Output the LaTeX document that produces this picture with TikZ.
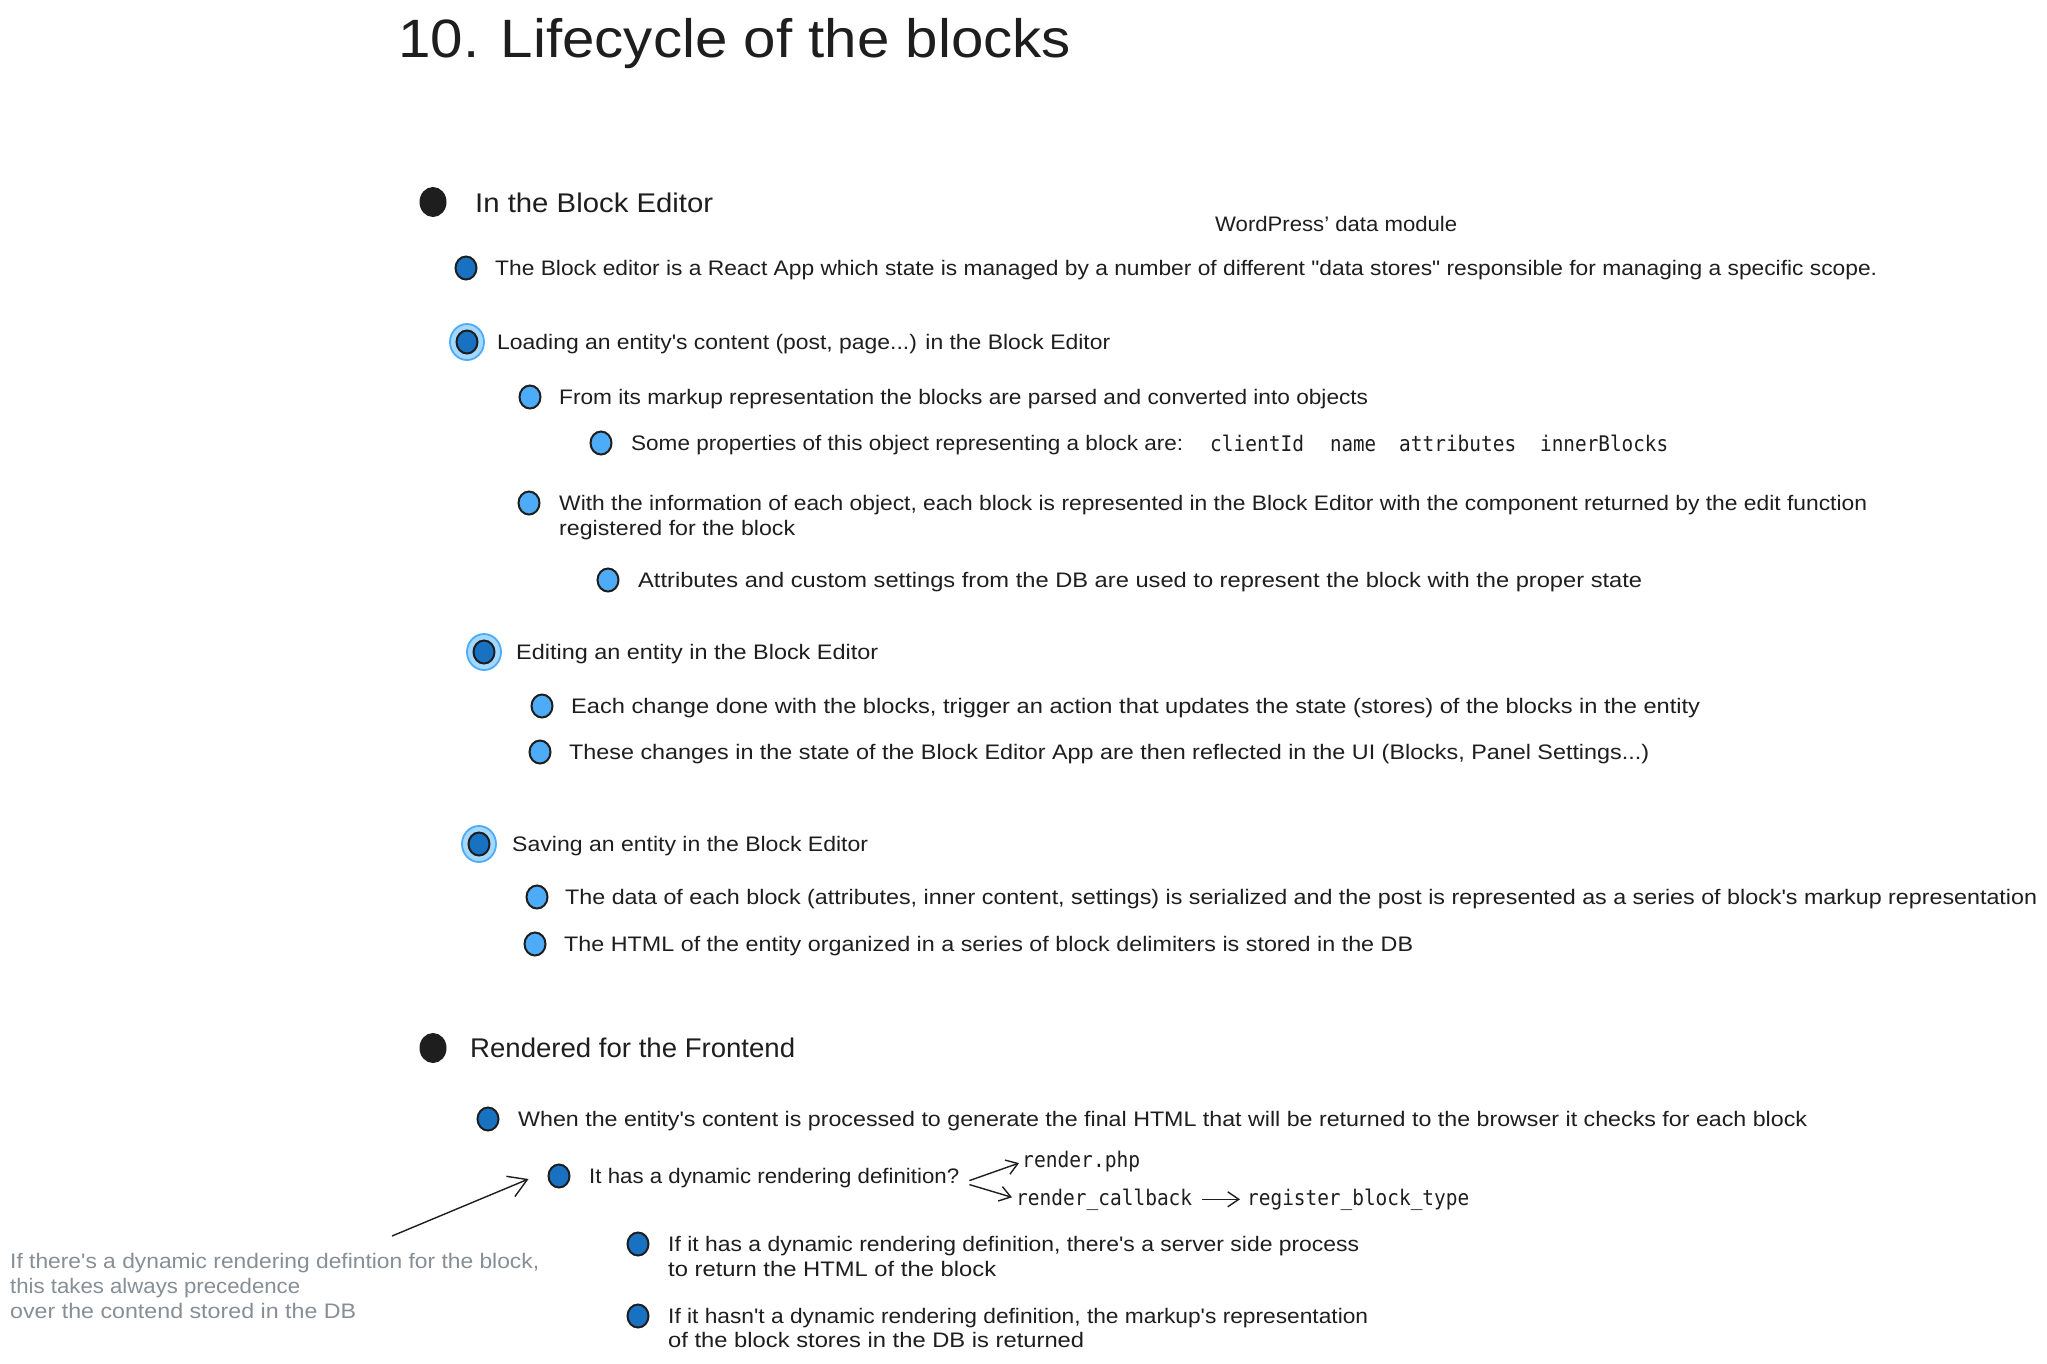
\documentclass[tikz,border=0pt]{standalone}
\usepackage{fontspec}
\usepackage{graphicx}
\setmainfont{Liberation Sans}[Ligatures=TeXOff]
\setmonofont{DejaVu Sans Mono}
\usetikzlibrary{arrows.meta,shapes.geometric}
\definecolor{ink}{HTML}{1E1E1E}
\definecolor{dblue}{HTML}{1971C2}
\definecolor{lblue}{HTML}{4DABF7}
\definecolor{ringfill}{HTML}{A5D8FF}
\definecolor{notegrey}{HTML}{868E96}
\newsavebox\fitbox
\newcommand\fitw[2]{\sbox\fitbox{#2}\pgfmathsetmacro\fitrat{#1/\the\wd\fitbox}\scalebox{\fitrat}[1]{\usebox\fitbox}}
\tikzset{
  txt/.style={anchor=base west, inner sep=0pt, text=ink, font=\fontsize{21}{24}\selectfont},
  hdr/.style={txt, font=\fontsize{27}{30}\selectfont},
  ttl/.style={txt, font=\fontsize{54}{60}\selectfont},
  code/.style={txt, font=\ttfamily\fontsize{21.5}{24}\selectfont},
  notetxt/.style={txt, text=notegrey},
  dot/.style={ellipse, draw=ink, line width=2pt, minimum width=21pt, minimum height=23pt, inner sep=0pt},
  darkdot/.style={dot, fill=dblue},
  lightdot/.style={dot, fill=lblue},
  bigdot/.style={ellipse, fill=ink, draw=ink, line width=1pt, minimum width=26pt, minimum height=29pt, inner sep=0pt},
  ringdot/.style={ellipse, fill=ringfill, draw=lblue, line width=1.8pt, minimum width=34pt, minimum height=36pt, inner sep=0pt},
  arr/.style={draw=ink, line width=1.4pt, -{Straight Barb[length=11pt,width=15pt]}},
  notearr/.style={draw=ink, line width=1.4pt, -{Straight Barb[length=18pt,width=22pt]}}
}
\begin{document}
\begin{tikzpicture}[x=1pt,y=-1pt]
\fill[white] (0,0) rectangle (2047,1363);
\useasboundingbox (0,0) rectangle (2047,1363);

% title
\node[ttl] (title) at (398,57) {\fitw{673}{10. Lifecycle of the blocks}};

% In the Block Editor
\node[bigdot] (b1) at (433,202) {};
\node[hdr] (h1) at (475,212) {\fitw{238}{In the Block Editor}};
\node[txt] (wp) at (1215,231) {\fitw{242}{WordPress’ data module}};

\node[darkdot] (b2) at (466,268) {};
\node[txt] (t2) at (495,275) {\fitw{1382}{The Block editor is a React App which state is managed by a number of different "data stores" responsible for managing a specific scope.}};

\node[ringdot] (b3r) at (467,342) {};
\node[darkdot] (b3) at (467,342) {};
\node[txt] (t3) at (497,349) {\fitw{613}{Loading an entity's content (post, page...) in the Block Editor}};

\node[lightdot] (b4) at (530,397) {};
\node[txt] (t4) at (559,404) {\fitw{809}{From its markup representation the blocks are parsed and converted into objects}};

\node[lightdot] (b5) at (601,443) {};
\node[txt] (t5) at (631,450) {\fitw{552}{Some properties of this object representing a block are:}};
\node[code] (c1) at (1210,451) {\fitw{94}{clientId}};
\node[code] (c2) at (1330,451) {\fitw{46}{name}};
\node[code] (c3) at (1399,451) {\fitw{117}{attributes}};
\node[code] (c4) at (1540,451) {\fitw{128}{innerBlocks}};

\node[lightdot] (b6) at (529,503) {};
\node[txt] (t6a) at (559,510) {\fitw{1308}{With the information of each object, each block is represented in the Block Editor with the component returned by the edit function}};
\node[txt] (t6b) at (559,535) {\fitw{236}{registered for the block}};

\node[lightdot] (b7) at (608,580) {};
\node[txt] (t7) at (638,587) {\fitw{1004}{Attributes and custom settings from the DB are used to represent the block with the proper state}};

\node[ringdot] (b8r) at (484,652) {};
\node[darkdot] (b8) at (484,652) {};
\node[txt] (t8) at (516,659) {\fitw{362}{Editing an entity in the Block Editor}};

\node[lightdot] (b9) at (542,706) {};
\node[txt] (t9) at (571,713) {\fitw{1129}{Each change done with the blocks, trigger an action that updates the state (stores) of the blocks in the entity}};

\node[lightdot] (b10) at (540,752) {};
\node[txt] (t10) at (569,759) {\fitw{1080}{These changes in the state of the Block Editor App are then reflected in the UI (Blocks, Panel Settings...)}};

\node[ringdot] (b11r) at (479,844) {};
\node[darkdot] (b11) at (479,844) {};
\node[txt] (t11) at (512,851) {\fitw{356}{Saving an entity in the Block Editor}};

\node[lightdot] (b12) at (537,897) {};
\node[txt] (t12) at (565,904) {\fitw{1472}{The data of each block (attributes, inner content, settings) is serialized and the post is represented as a series of block's markup representation}};

\node[lightdot] (b13) at (535,944) {};
\node[txt] (t13) at (564,951) {\fitw{849}{The HTML of the entity organized in a series of block delimiters is stored in the DB}};

% Rendered for the Frontend
\node[bigdot] (b14) at (433,1048) {};
\node[hdr] (h2) at (470,1057) {\fitw{325}{Rendered for the Frontend}};

\node[darkdot] (b15) at (488,1119) {};
\node[txt] (t15) at (518,1126) {\fitw{1289}{When the entity's content is processed to generate the final HTML that will be returned to the browser it checks for each block}};

\node[darkdot] (b16) at (559,1176) {};
\node[txt] (t16) at (589,1183) {\fitw{370}{It has a dynamic rendering definition?}};
\node[code] (rphp) at (1022,1167) {\fitw{118}{render.php}};
\node[code] (rcb) at (1016,1205) {\fitw{176}{render\_callback}};
\node[code] (rbt) at (1247,1205) {\fitw{222}{register\_block\_type}};

\node[darkdot] (b17) at (638,1244) {};
\node[txt] (t17a) at (668,1251) {\fitw{691}{If it has a dynamic rendering definition, there's a server side process}};
\node[txt] (t17b) at (668,1276) {\fitw{328}{to return the HTML of the block}};

\node[darkdot] (b18) at (638,1316) {};
\node[txt] (t18a) at (668,1323) {\fitw{700}{If it hasn't a dynamic rendering definition, the markup's representation}};
\node[txt] (t18b) at (668,1347) {\fitw{416}{of the block stores in the DB is returned}};

% annotation
\node[notetxt] (n1) at (10,1268) {\fitw{529}{If there's a dynamic rendering defintion for the block,}};
\node[notetxt] (n2) at (10,1293) {\fitw{290}{this takes always precedence}};
\node[notetxt] (n3) at (10,1318) {\fitw{346}{over the contend stored in the DB}};
\coordinate (nstart) at (392,1236);

% connectors
\draw[notearr] (nstart) -- ([xshift=-19pt,yshift=-3pt]b16.west);
\draw[arr] ([xshift=10pt,yshift=-3pt]t16.east) -- ([xshift=-3pt,yshift=-2pt]rphp.west);
\draw[arr] ([xshift=10pt,yshift=-7pt]t16.east) -- ([xshift=-4pt,yshift=2pt]rcb.west);
\draw[arr] ([xshift=10pt]rcb.east) -- ([xshift=-7pt]rbt.west);
\end{tikzpicture}
\end{document}
